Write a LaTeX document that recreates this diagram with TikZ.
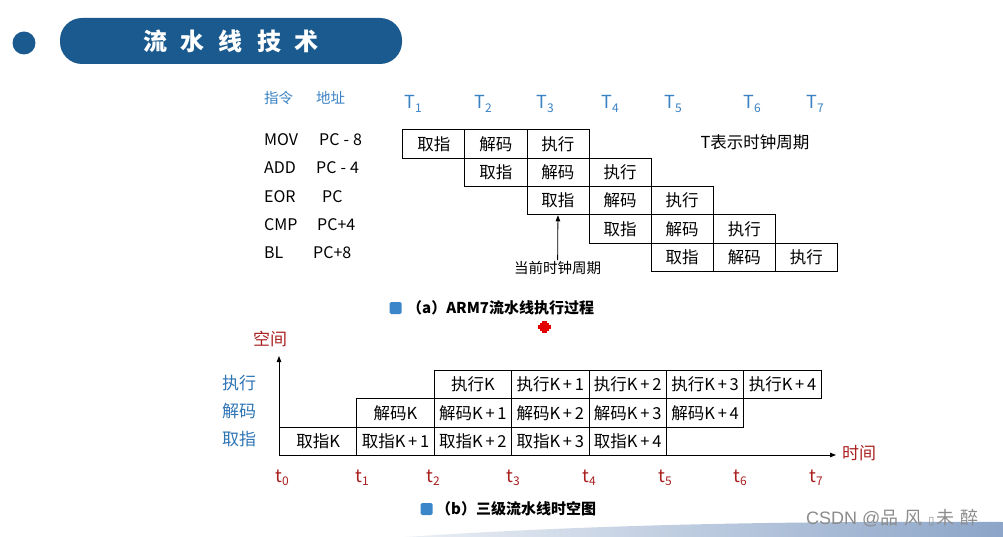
\documentclass[tikz,border=0pt]{standalone}
\usepackage{fontspec}
\setmainfont{Noto Sans CJK SC}
\newfontfamily\symfont{DejaVu Sans}
\newfontfamily\wmfont{Liberation Sans}
\usetikzlibrary{arrows.meta}
\definecolor{bannerblue}{RGB}{26,90,142}
\definecolor{hdrblue}{RGB}{58,130,196}
\definecolor{rowblue}{RGB}{46,117,182}
\definecolor{axred}{RGB}{170,32,32}
\definecolor{capblue}{RGB}{58,134,200}
\definecolor{wmgray}{RGB}{140,140,140}
\definecolor{bandL}{RGB}{235,239,245}
\definecolor{bandR}{RGB}{140,165,200}
\tikzset{
  fs/.style={font=\fontsize{#1}{#1}\selectfont},
  cella/.style={draw, line width=0.8pt, inner sep=0pt, anchor=north west,
    minimum width=62.1pt, minimum height=28.4pt, fs=16.5},
  cellb/.style={draw, line width=0.8pt, inner sep=0pt, anchor=north west,
    minimum width=77.4pt, minimum height=28.4pt, fs=16.5},
  hdr/.style={text=hdrblue, fs=14.5, inner sep=0pt},
  tlab/.style={text=hdrblue, fs=18, inner sep=0pt},
  instr/.style={fs=16, inner sep=0pt, anchor=west},
  rowlab/.style={text=rowblue, fs=17, inner sep=0pt},
  tsm/.style={text=axred, fs=18, inner sep=0pt},
  capsq/.style={fill=capblue, rounded corners=1.5pt, minimum size=12pt, inner sep=0pt},
  captxt/.style={font=\bfseries\fontsize{15}{15}\selectfont, inner sep=0pt, anchor=west},
}
\newcommand{\Tsub}[1]{T\raisebox{-0.35ex}{\fontsize{12}{12}\selectfont #1}}
\newcommand{\tsub}[1]{t\raisebox{-0.35ex}{\fontsize{12}{12}\selectfont #1}}
\begin{document}
\begin{tikzpicture}[x=1pt,y=-1pt]
\useasboundingbox (0,0) rectangle (1003,537);
\fill[white] (0,0) rectangle (1003,537);

% bottom band
\shade[left color=bandL, right color=bandR]
  (405,537) .. controls (600,524) and (800,521) .. (1003,522) -- (1003,537) -- cycle;

% banner
\node[circle, fill=bannerblue, minimum size=23pt, inner sep=0pt] (dot) at (24,43) {};
\node[fill=bannerblue, rounded corners=22pt, minimum width=342pt, minimum height=46pt, inner sep=0pt,
  text=white, font=\bfseries\fontsize{24}{24}\selectfont] (banner) at (231,41)
  {流\hspace{14pt}水\hspace{14pt}线\hspace{14pt}技\hspace{14pt}术};

% ===== part (a) =====
\node[hdr, anchor=west] (h1) at (264,98) {指令};
\node[hdr, anchor=west] (h2) at (316,98) {地址};

\node[tlab] (T1) at (413,104) {\Tsub{1}};
\node[tlab] (T2) at (483,104) {\Tsub{2}};
\node[tlab] (T3) at (545,104) {\Tsub{3}};
\node[tlab] (T4) at (610,104) {\Tsub{4}};
\node[tlab] (T5) at (673,104) {\Tsub{5}};
\node[tlab] (T6) at (752,104) {\Tsub{6}};
\node[tlab] (T7) at (815,104) {\Tsub{7}};

\node[instr] (i1) at (264,140) {MOV};
\node[instr] (i2) at (264,168) {ADD};
\node[instr] (i3) at (264,197) {EOR};
\node[instr] (i4) at (264,225) {CMP};
\node[instr] (i5) at (264,253) {BL};
\node[instr] (p1) at (319,140) {PC\hspace{4pt}-\hspace{4pt}8};
\node[instr] (p2) at (316,168) {PC\hspace{4pt}-\hspace{4pt}4};
\node[instr] (p3) at (322,197) {PC};
\node[instr] (p4) at (317,225) {PC+4};
\node[instr] (p5) at (313,253) {PC+8};

\foreach \r in {0,...,4}{
  \pgfmathsetmacro{\ya}{129.3+\r*28.4}
  \pgfmathsetmacro{\xa}{402.3+\r*62.1}
  \pgfmathsetmacro{\xb}{402.3+(\r+1)*62.1}
  \pgfmathsetmacro{\xc}{402.3+(\r+2)*62.1}
  \node[cella] (a-\r-0) at (\xa,\ya) {取指};
  \node[cella] (a-\r-1) at (\xb,\ya) {解码};
  \node[cella] (a-\r-2) at (\xc,\ya) {执行};
}

\node[fs=16.5, inner sep=0pt] (tnote) at (755,142) {T表示时钟周期};

\node[fs=14.5, inner sep=1pt] (cur) at (557.6,268) {当前时钟周期};
\draw[line width=0.8pt, -{Triangle[length=6pt,width=4.5pt]}] (cur.north) -- (a-2-0.south);

% caption (a)
\node[capsq] (sqa) at (395.5,308) {};
\node[captxt] (capa) at (407,308) {（a）ARM7流水线执行过程};

% red cursor cross
\fill[red!90!black] (540,322.5) rectangle (549,330.5);
\fill[red!90!black] (542,320.5) rectangle (547,332.5);
\fill[red!90!black] (538,324.5) rectangle (551,328.5);

% ===== part (b) =====
\node[text=axred, fs=17, inner sep=0pt] (space) at (270,339) {空间};
\node[rowlab] (r1) at (239,383) {执行};
\node[rowlab] (r2) at (239,411) {解码};
\node[rowlab] (r3) at (239,439) {取指};

\coordinate (origin) at (279,455);
\coordinate (ytip) at (279,356);
\coordinate (xtip) at (836,455);
\draw[line width=0.9pt, -{Triangle[length=6pt,width=4.5pt]}] (origin) -- (ytip);
\draw[line width=0.9pt, -{Triangle[length=6pt,width=4.5pt]}] (origin) -- (xtip);
\node[text=axred, fs=17, inner sep=0pt, anchor=west] (timelab) at (842,453) {时间};

\node[cellb] (f0) at (279,426.6) {取指K};
\node[cellb] (f1) at (356.4,426.6) {取指K\,+\,1};
\node[cellb] (f2) at (433.8,426.6) {取指K\,+\,2};
\node[cellb] (f3) at (511.2,426.6) {取指K\,+\,3};
\node[cellb] (f4) at (588.6,426.6) {取指K\,+\,4};

\node[cellb] (d0) at (356.4,398.2) {解码K};
\node[cellb] (d1) at (433.8,398.2) {解码K\,+\,1};
\node[cellb] (d2) at (511.2,398.2) {解码K\,+\,2};
\node[cellb] (d3) at (588.6,398.2) {解码K\,+\,3};
\node[cellb] (d4) at (666,398.2) {解码K\,+\,4};

\node[cellb] (e0) at (433.8,369.8) {执行K};
\node[cellb] (e1) at (511.2,369.8) {执行K\,+\,1};
\node[cellb] (e2) at (588.6,369.8) {执行K\,+\,2};
\node[cellb] (e3) at (666,369.8) {执行K\,+\,3};
\node[cellb] (e4) at (743.4,369.8) {执行K\,+\,4};

\node[tsm] (t0) at (282,478) {\tsub{0}};
\node[tsm] (t1) at (362,478) {\tsub{1}};
\node[tsm] (t2) at (433,478) {\tsub{2}};
\node[tsm] (t3) at (513,478) {\tsub{3}};
\node[tsm] (t4) at (589,478) {\tsub{4}};
\node[tsm] (t5) at (665,478) {\tsub{5}};
\node[tsm] (t6) at (740,478) {\tsub{6}};
\node[tsm] (t7) at (816,478) {\tsub{7}};

% caption (b)
\node[capsq] (sqb) at (426.5,509) {};
\node[captxt] (capb) at (436,509) {（b）三级流水线时空图};

% watermark
\node[text=wmgray, fs=18, inner sep=0pt, anchor=west] (wm) at (806,518)
  {{\wmfont CSDN @}品\hspace{6pt}风\hspace{6pt}{\symfont\fontsize{11}{11}\selectfont ▯}\hspace{2pt}未\hspace{6pt}醉};
\end{tikzpicture}
\end{document}
